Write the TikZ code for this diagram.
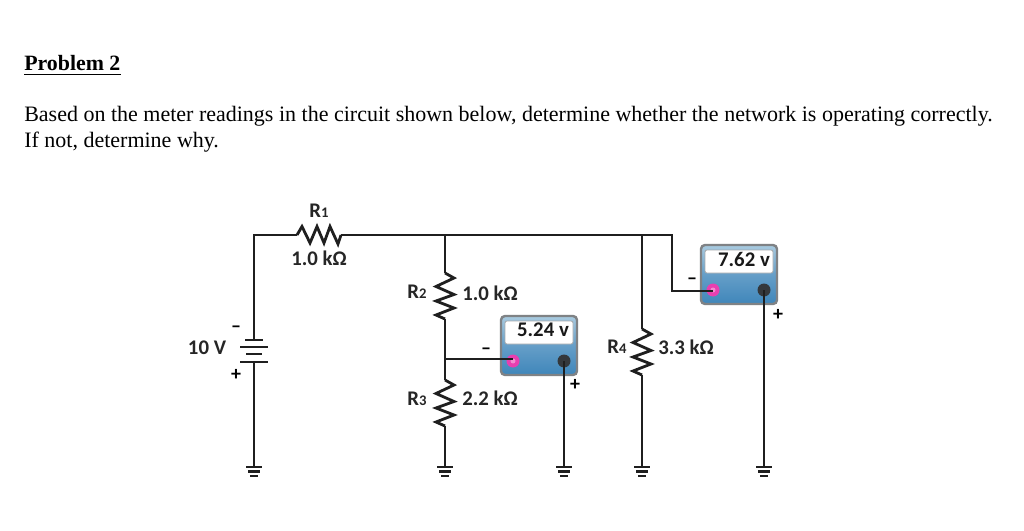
\documentclass[tikz,border=0pt]{standalone}
\usepackage{fontspec}
\setmainfont{Liberation Serif}
\newfontfamily\lab{Carlito}
\definecolor{meterframe}{HTML}{7F8285}
\definecolor{metertop}{HTML}{A9CBE0}
\definecolor{meterbot}{HTML}{3F86BA}
\definecolor{pinkterm}{HTML}{E83FB0}
\definecolor{darkterm}{HTML}{34383C}
\tikzset{
  wire/.style={line width=2.1pt,black!88,line join=miter},
  body/.style={inner sep=0pt,anchor=base west,font=\fontsize{16.5pt}{18pt}\selectfont},
  lbl/.style={inner sep=0pt,anchor=base,font=\lab\bfseries\fontsize{15.6pt}{16pt}\selectfont,text=black!85},
  sgn/.style={inner sep=0pt,font=\lab\bfseries\fontsize{15pt}{16pt}\selectfont},
  readout/.style={inner sep=0pt,anchor=base,font=\lab\bfseries\fontsize{15.6pt}{16pt}\selectfont,text=black!90},
  hres/.pic={\draw[wire] (0,0)--(5,-8.5)--(13,8)--(20,-8.5)--(27,8)--(33,-8.5)--(41,9)--(44,0);},
  vres/.pic={\draw[wire] (0,0)--(9,5)--(-9,13.5)--(9,21.5)--(-9,28)--(9,35)--(-9,42)--(0,46);},
  gnd/.pic={\draw[wire] (-8,0)--(8,0) (-6,4.5)--(6,4.5) (-4,9)--(4,9);},
  meter/.pic={
    \draw[meterframe,line width=1.8pt,rounded corners=3pt,top color=metertop,bottom color=meterbot,middle color=meterbot!80!white] (0,0) rectangle (76,59);
    \draw[meterframe!70,line width=.6pt,fill=white,rounded corners=1.5pt] (4,5) rectangle (72,28);
    \fill[pinkterm] (12,45) circle (6.5);
    \fill[pinkterm!60!white] (12,45) circle (2.5);
    \fill[darkterm] (63,45) circle (6.5);
  },
}
\begin{document}
\begin{tikzpicture}[x=0.75pt,y=-0.75pt]
\useasboundingbox[fill=white] (0,0) rectangle (1024,531);
% text
\node[body,font=\bfseries\fontsize{16.4pt}{18pt}\selectfont] (title) at (24,71) {Problem 2};
\draw[line width=0.9pt] (24,74.5) -- (title.base east |- 0,74.5);
\node[body] (l1) at (24,121.5) {Based on the meter readings in the circuit shown below, determine whether the network is operating correctly.};
\node[body] (l2) at (24,147.5) {If not, determine why.};
% coordinates
\coordinate (bat) at (254,340);
\coordinate (batb) at (254,362);
\coordinate (tl) at (254,235);
\coordinate (r1a) at (297,235);
\coordinate (r1b) at (341,235);
\coordinate (j2) at (445,235);
\coordinate (j4) at (642,235);
\coordinate (tr) at (672,235);
\coordinate (r2a) at (445,273);
\coordinate (r2b) at (445,319);
\coordinate (jm) at (445,359);
\coordinate (r3a) at (445,380);
\coordinate (r3b) at (445,426);
\coordinate (r4a) at (642,329);
\coordinate (r4b) at (642,375);
\coordinate (g1) at (254,467);
\coordinate (g2) at (445,467);
\coordinate (g3) at (564,467);
\coordinate (g4) at (642,467);
\coordinate (g5) at (764,467);
\coordinate (m1n) at (513,359);
\coordinate (m1p) at (564,361);
\coordinate (m2n) at (713,291);
\coordinate (m2p) at (764,290);
% meters
\pic at (501,316) {meter};
\pic at (701,245) {meter};
% wires
\draw[wire] (bat) -- (tl) -- (r1a);
\draw[wire] (r1b) -- (j2) -- (j4) -- (tr) |- (m2n);
\draw[wire] (j2) -- (r2a);
\draw[wire] (r2b) -- (jm) -- (r3a);
\draw[wire] (r3b) -- (g2);
\draw[wire] (jm) -- (m1n);
\draw[wire] (j4) -- (r4a);
\draw[wire] (r4b) -- (g4);
\draw[wire] (batb) -- (g1);
\draw[wire] (m1p) -- (g3);
\draw[wire] (m2p) -- (g5);
% resistors
\pic at (r1a) {hres};
\pic at (r2a) {vres};
\pic at (r3a) {vres};
\pic at (r4a) {vres};
% grounds
\pic at (g1) {gnd};
\pic at (g2) {gnd};
\pic at (g3) {gnd};
\pic at (g4) {gnd};
\pic at (g5) {gnd};
% battery
\draw[wire] (245,340)--(263,340) (240,347)--(268,347) (246,354)--(262,354) (240,362)--(268,362);
% labels
\node[lbl] (r1) at (319,217.5) {R{\fontsize{11pt}{11pt}\selectfont 1}};
\node[lbl] (v1) at (319,265.5) {1.0 kΩ};
\node[lbl] (r2) at (417,298.5) {R{\fontsize{11pt}{11pt}\selectfont 2}};
\node[lbl] (v2) at (490,300.5) {1.0 kΩ};
\node[lbl] (r3) at (417,405.5) {R{\fontsize{11pt}{11pt}\selectfont 3}};
\node[lbl] (v3) at (490,405.5) {2.2 kΩ};
\node[lbl] (r4) at (617,353.5) {R{\fontsize{11pt}{11pt}\selectfont 4}};
\node[lbl] (v4) at (686,354.5) {3.3 kΩ};
\node[lbl] (vb) at (207,354.5) {10 V};
\node[sgn] (bm) at (236,329) {–};
\node[sgn] (bp) at (236,375) {+};
\node[readout] (d1) at (543,336.5) {5.24 v};
\node[readout] (d2) at (744,266.5) {7.62 v};
\node[sgn] (m1m) at (486,351) {–};
\node[sgn] (m1a) at (575,385) {+};
\node[sgn] (m2m) at (692,281) {–};
\node[sgn] (m2a) at (778,315) {+};
\end{tikzpicture}
\end{document}
